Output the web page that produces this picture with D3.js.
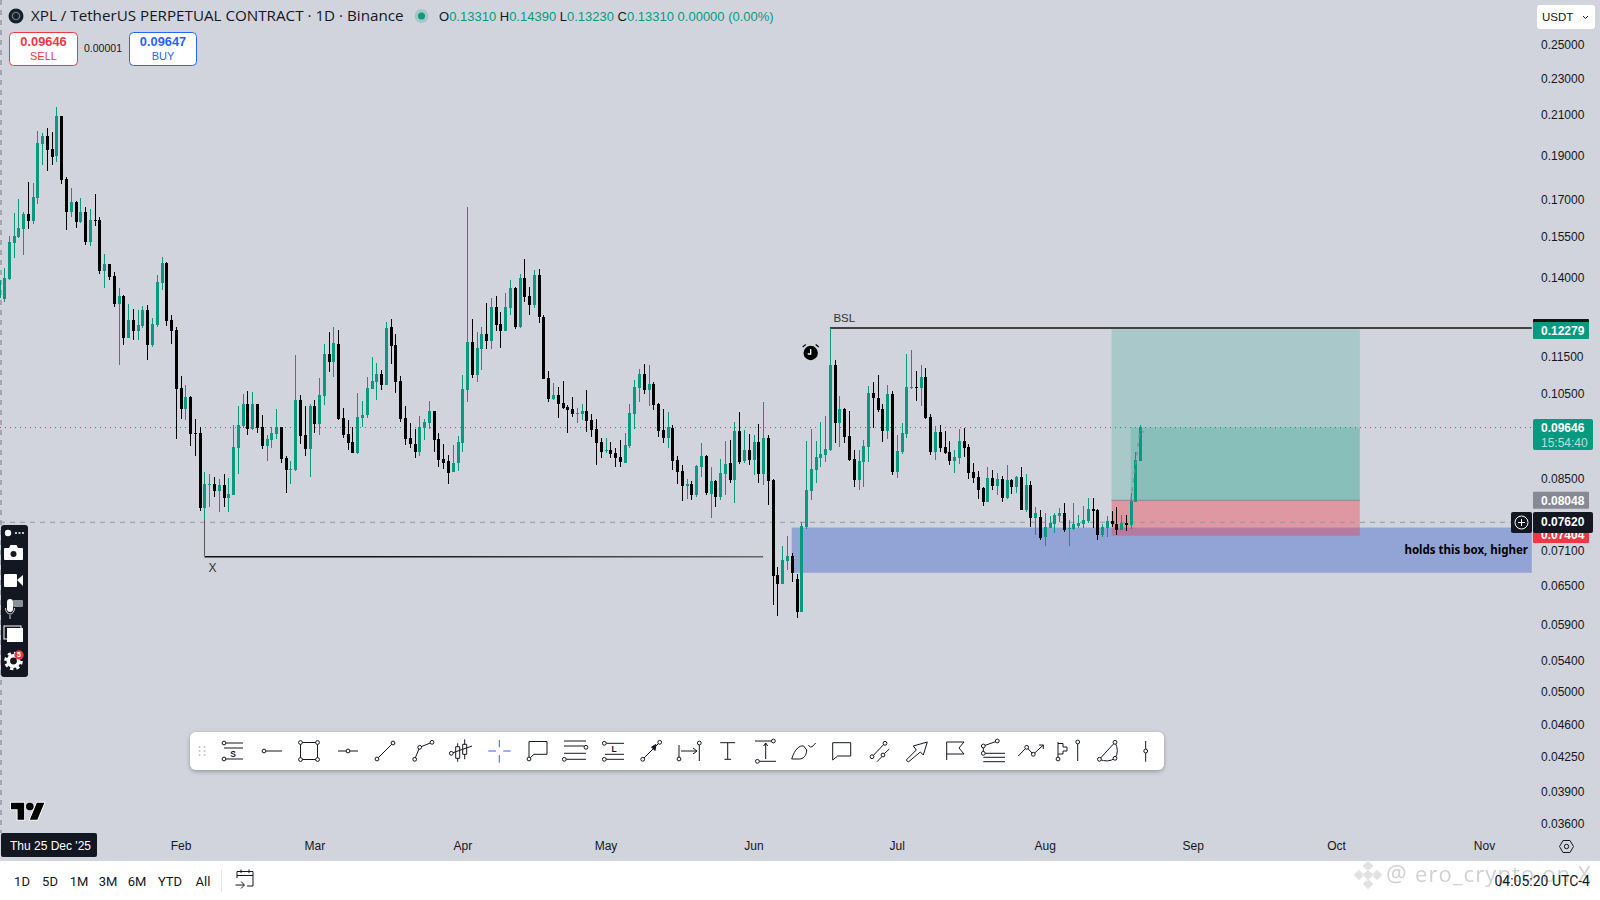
<!DOCTYPE html>
<html>
<head>
<meta charset="utf-8">
<title>XPL / TetherUS PERPETUAL CONTRACT</title>
<script src="https://cdn.jsdelivr.net/npm/d3@7"></script>
<style>
  html, body { margin: 0; padding: 0; background: #d1d4dc; overflow: hidden; }
  svg { display: block; font-family: "Liberation Sans", Arial, sans-serif; }
  .yaxis text, .xaxis text { font-size: 12px; fill: #131722; font-family: "Liberation Sans", Arial, sans-serif; }
</style>
</head>
<body>
<div id="chart"></div>
<script>
// daily candles, first one is Thu 25 Dec 2025
const firstDay = "2025-12-25";

const opens = [
  .1332,.1328,.1396,.1527,.1550,.1581,.1642,.1613,.1708,.1954,
  .1993,.1930,.1897,.2095,.1791,.1650,.1691,.1609,.1650,.1531,
  .1617,.1617,.1424,.1449,.1407,.1312,.1338,.1206,.1261,.1227,
  .1242,.1293,.1185,.1245,.1382,.1453,.1261,.1230,.1064,.1010,
  .1041,.0952,.0952,.0790,.0836,.0838,.0824,.0836,.0810,.0816,
  .0917,.0968,.1023,.0961,.1023,.0966,.0921,.0935,.0949,.0966,
  .0894,.0868,.0868,.1033,.0947,.0914,.1018,.0973,.1044,.1159,
  .1136,.1188,.0988,.0949,.0931,.0906,.0988,.0995,.1062,.1080,
  .1103,.1072,.1239,.1185,.1083,.0988,.0940,.0926,.0908,.0963,
  .0976,.1005,.0938,.0892,.0888,.0864,.0883,.0928,.1059,.1194,
  .1099,.1173,.1218,.1197,.1302,.1248,.1227,.1299,.1365,.1239,
  .1400,.1338,.1309,.1410,.1270,.1091,.1036,.1046,.1026,.1015,
  .1010,.0998,.0998,.1005,.0983,.0961,.0931,.0910,.0912,.0906,
  .0897,.0883,.0921,.0998,.1064,.1103,.1059,.1075,.1023,.0959,
  .0940,.0963,.0890,.0866,.0834,.0838,.0816,.0874,.0899,.0818,
  .0845,.0811,.0859,.0883,.0847,.0956,.0888,.0912,.0890,.0931,
  .0859,.0940,.0847,.0668,.0654,.0692,.0701,.0662,.0610,.0753,
  .0824,.0868,.0894,.0901,.0912,.1127,.0976,.1010,.0944,.0892,
  .0847,.0885,.0919,.1051,.1038,.1010,.0956,.1049,.0864,.0908,
  .0949,.1064,.1067,.1064,.1094,.0990,.0908,.0954,.0919,.0908,
  .0888,.0894,.0933,.0919,.0864,.0853,.0829,.0801,.0851,.0834,
  .0849,.0810,.0847,.0831,.0853,.0786,.0836,.0770,.0772,.0734,
  .0751,.0759,.0774,.0780,.0749,.0749,.0755,.0759,.0765,.0788,
  .0786,.0738,.0751,.0765,.0759,.0748,.0761,.0757,.0801,.0888
];
const highs = [
  .1431,.1435,.1554,.1646,.1704,.1650,.1778,.1773,.2018,.2008,
  .2033,.2013,.2143,.2095,.1800,.1751,.1695,.1708,.1670,.1662,
  .1725,.1630,.1486,.1449,.1421,.1365,.1342,.1312,.1296,.1293,
  .1306,.1309,.1267,.1410,.1475,.1457,.1277,.1239,.1097,.1072,
  .1044,.0985,.0966,.0864,.0859,.0853,.0849,.0859,.0851,.0971,
  .1018,.1049,.1056,.1054,.1023,.0995,.0947,.0966,.1010,.0966,
  .0899,.0888,.1156,.1046,.1018,.1023,.1033,.1091,.1188,.1224,
  .1239,.1230,.1013,.0983,.0966,.1051,.1031,.1094,.1150,.1133,
  .1113,.1254,.1264,.1218,.1097,.1018,.0976,.0961,.0993,.0985,
  .1031,.1005,.0952,.0926,.0901,.0924,.0944,.1099,.1670,.1264,
  .1224,.1239,.1315,.1332,.1338,.1286,.1349,.1393,.1369,.1414,
  .1468,.1369,.1428,.1431,.1277,.1111,.1078,.1067,.1083,.1021,
  .1041,.1013,.1023,.1059,.0998,.0985,.0940,.0940,.0931,.0917,
  .0935,.0952,.1023,.1086,.1116,.1130,.1127,.1080,.1026,.1010,
  .1003,.0971,.0899,.0878,.0849,.0845,.0878,.0928,.0901,.0874,
  .0847,.0892,.0933,.0935,.0978,.1003,.0959,.0949,.0947,.0973,
  .1028,.0947,.0849,.0682,.0719,.0736,.0706,.0670,.0763,.0933,
  .0961,.0933,.0978,.0993,.1236,.1141,.1044,.1013,.1005,.0912,
  .0912,.0935,.1070,.1080,.1099,.1023,.1072,.1056,.0947,.0976,
  .1159,.1170,.1111,.1127,.1119,.0998,.0968,.0971,.0956,.0933,
  .0912,.0961,.0963,.0926,.0883,.0866,.0831,.0874,.0868,.0862,
  .0855,.0879,.0849,.0855,.0874,.0859,.0845,.0792,.0786,.0780,
  .0774,.0780,.0790,.0799,.0766,.0799,.0776,.0794,.0810,.0810,
  .0788,.0759,.0774,.0784,.0792,.0776,.0776,.0820,.0908,.0971
];
const lows = [
  .1328,.1319,.1393,.1471,.1546,.1482,.1581,.1601,.1683,.1855,
  .1827,.1855,.1868,.1769,.1577,.1630,.1585,.1605,.1520,.1516,
  .1593,.1414,.1365,.1393,.1302,.1127,.1185,.1206,.1200,.1200,
  .1236,.1141,.1179,.1239,.1359,.1242,.1188,.0938,.0985,.0983,
  .0921,.0899,.0784,.0766,.0792,.0811,.0782,.0792,.0782,.0816,
  .0859,.0963,.0947,.0959,.0952,.0914,.0888,.0917,.0938,.0883,
  .0820,.0838,.0866,.0926,.0899,.0853,.0952,.0947,.1021,.1108,
  .1094,.0983,.0940,.0912,.0906,.0904,.0966,.0988,.1062,.1033,
  .1059,.1072,.1130,.1051,.0978,.0924,.0917,.0894,.0899,.0935,
  .0961,.0908,.0874,.0870,.0838,.0864,.0866,.0908,.1028,.1091,
  .1080,.1113,.1173,.1173,.1227,.1176,.1227,.1277,.1233,.1236,
  .1319,.1277,.1299,.1251,.1088,.1028,.1033,.0988,.1010,.0952,
  .0990,.0976,.0983,.0954,.0942,.0878,.0894,.0906,.0894,.0874,
  .0874,.0883,.0917,.0961,.1028,.1049,.1018,.1008,.0942,.0928,
  .0917,.0868,.0838,.0803,.0808,.0805,.0811,.0853,.0816,.0770,
  .0792,.0805,.0816,.0841,.0799,.0881,.0883,.0878,.0857,.0841,
  .0836,.0795,.0620,.0603,.0654,.0677,.0656,.0601,.0610,.0749,
  .0805,.0840,.0874,.0885,.0910,.0928,.0919,.0928,.0888,.0831,
  .0826,.0831,.0885,.0963,.1003,.0931,.0938,.0857,.0851,.0904,
  .0940,.1062,.1031,.1018,.0985,.0901,.0890,.0908,.0904,.0878,
  .0862,.0881,.0897,.0849,.0840,.0808,.0794,.0801,.0826,.0816,
  .0801,.0808,.0818,.0820,.0786,.0782,.0753,.0738,.0729,.0719,
  .0751,.0742,.0763,.0744,.0719,.0748,.0751,.0751,.0761,.0751,
  .0729,.0734,.0734,.0753,.0738,.0748,.0746,.0749,.0801,.0888
];
const closes = [
  .1393,.1400,.1531,.1554,.1585,.1642,.1613,.1712,.1959,.1993,
  .1925,.1892,.2095,.1786,.1650,.1691,.1609,.1650,.1531,.1617,
  .1613,.1424,.1449,.1403,.1312,.1338,.1206,.1261,.1227,.1245,
  .1293,.1185,.1248,.1386,.1453,.1258,.1227,.1062,.1010,.1041,
  .0949,.0949,.0790,.0838,.0838,.0824,.0836,.0810,.0818,.0919,
  .0971,.1023,.0961,.1023,.0963,.0921,.0938,.0952,.0966,.0892,
  .0868,.0870,.1033,.0944,.0914,.1018,.0973,.1046,.1159,.1136,
  .1191,.0985,.0947,.0928,.0906,.0990,.0995,.1064,.1083,.1103,
  .1072,.1236,.1182,.1080,.0985,.0938,.0926,.0908,.0966,.0978,
  .1005,.0935,.0890,.0883,.0862,.0883,.0931,.1062,.1194,.1099,
  .1176,.1218,.1197,.1302,.1245,.1227,.1302,.1365,.1239,.1400,
  .1335,.1309,.1410,.1270,.1088,.1036,.1046,.1023,.1013,.1008,
  .0998,.1000,.1005,.0981,.0959,.0928,.0908,.0912,.0904,.0894,
  .0885,.0924,.1000,.1067,.1103,.1059,.1075,.1021,.0956,.0940,
  .0966,.0888,.0864,.0834,.0838,.0816,.0876,.0899,.0820,.0845,
  .0811,.0862,.0881,.0847,.0956,.0885,.0912,.0890,.0931,.0859,
  .0940,.0845,.0666,.0654,.0694,.0701,.0672,.0610,.0755,.0826,
  .0870,.0897,.0904,.0914,.1127,.0976,.1010,.0942,.0890,.0847,
  .0888,.0921,.1051,.1038,.1008,.0956,.1049,.0864,.0910,.0952,
  .1067,.1067,.1064,.1094,.0988,.0908,.0954,.0917,.0906,.0888,
  .0897,.0933,.0917,.0862,.0851,.0826,.0801,.0851,.0834,.0849,
  .0810,.0847,.0831,.0853,.0786,.0836,.0770,.0780,.0733,.0753,
  .0761,.0776,.0780,.0748,.0751,.0759,.0761,.0766,.0788,.0784,
  .0738,.0753,.0765,.0759,.0748,.0761,.0757,.0803,.0890,.0965
];

const priceTicks = [0.25, 0.23, 0.21, 0.19, 0.17, 0.155, 0.14, 0.115, 0.105, 0.085, 0.071, 0.065, 0.059, 0.054, 0.05, 0.046, 0.0425, 0.039, 0.036];
const monthTicks = ["2026-02-01", "2026-03-01", "2026-04-01", "2026-05-01", "2026-06-01", "2026-07-01", "2026-08-01", "2026-09-01", "2026-10-01", "2026-11-01"];
const rangeButtons = ["1D", "5D", "1M", "3M", "6M", "YTD", "All"];

// drawings on the chart
const bslLine = { from: "2026-06-17", to: "2026-11-11", price: 0.1236 };
const xLine = { from: "2026-02-06", to: "2026-06-03", price: 0.0701, start: 0.0792 };
const blueBox = { from: "2026-06-09", to: "2026-11-11", top: 0.0752, bottom: 0.0672 };
const longTool = { from: "2026-08-15", to: "2026-10-06", fillFrom: "2026-08-19", target: 0.1232, entry: 0.08048, stop: 0.0737 };
const lastPrice = 0.09646;
const crossPrice = 0.0762;

const parseDay = d3.utcParse("%Y-%m-%d");
const candles = opens.map((o, i) => ({
  date: d3.utcDay.offset(parseDay(firstDay), i),
  open: o, high: highs[i], low: lows[i], close: closes[i]
}));

const green = "#089981", black = "#000000", ink = "#131722";
const width = 1600, height = 900, paneRight = 1533, barTop = 861;

const x = d3.scaleUtc()
  .domain([parseDay(firstDay), parseDay("2026-11-01")])
  .range([-0.8, 1484]);
const y = d3.scaleLog().domain([0.25, 0.036]).range([45, 823.5]);
const X = s => x(parseDay(s));

const svg = d3.select("#chart").append("svg").attr("width", width).attr("height", height);
svg.append("rect").attr("width", width).attr("height", height).attr("fill", "#d1d4dc");

function rect(g, x0, y0, w, h, fill, r) {
  return g.append("rect").attr("x", x0).attr("y", y0).attr("width", w).attr("height", h).attr("fill", fill).attr("rx", r || 0);
}
function line(g, x1, y1, x2, y2, stroke, w) {
  return g.append("line").attr("x1", x1).attr("y1", y1).attr("x2", x2).attr("y2", y2).attr("stroke", stroke).attr("stroke-width", w || 1);
}
function label(g, x0, y0, txt, size, fill, anchor, weight) {
  return g.append("text").attr("x", x0).attr("y", y0).attr("dy", "0.35em").attr("font-size", size)
    .attr("fill", fill).attr("text-anchor", anchor || "start").attr("font-weight", weight || 400).text(txt);
}

// boxes sit behind the candles
const drawings = svg.append("g");
rect(drawings, X(blueBox.from), y(blueBox.top), X(blueBox.to) - X(blueBox.from), y(blueBox.bottom) - y(blueBox.top), "#92a3d6");
rect(drawings, X(longTool.from), y(longTool.target), X(longTool.to) - X(longTool.from), y(longTool.entry) - y(longTool.target), "#089981", 0).attr("opacity", 0.2);
rect(drawings, X(longTool.fillFrom), y(lastPrice), X(longTool.to) - X(longTool.fillFrom), y(longTool.entry) - y(lastPrice), "#089981", 0).attr("opacity", 0.2);
rect(drawings, X(longTool.from), y(longTool.entry), X(longTool.to) - X(longTool.from), y(longTool.stop) - y(longTool.entry), "#f23645", 0).attr("opacity", 0.38);
line(drawings, X(longTool.from), y(longTool.entry), X(longTool.to), y(longTool.entry), "#868993", 1);

line(drawings, 0, y(lastPrice), paneRight, y(lastPrice), green, 1).attr("stroke-dasharray", "1 4");
line(drawings, 0, y(crossPrice), 1511, y(crossPrice), "#9598a1", 1).attr("stroke-dasharray", "5 5");
line(drawings, 1, 0, 1, 833, "#9598a1", 1.5).attr("stroke-dasharray", "5 5");

// the black lines, X fades to grey on its right end
const defs = svg.append("defs");
const fade = defs.append("linearGradient").attr("id", "xfade").attr("gradientUnits", "userSpaceOnUse")
  .attr("x1", X(xLine.from)).attr("x2", X(xLine.to)).attr("y1", 0).attr("y2", 0);
fade.append("stop").attr("offset", "0.3").attr("stop-color", "#111");
fade.append("stop").attr("offset", "1").attr("stop-color", "#666");
line(drawings, X(xLine.from), y(xLine.start), X(xLine.from), y(xLine.price), "#555", 1);
drawings.append("rect").attr("x", X(xLine.from)).attr("y", Math.round(y(xLine.price))).attr("height", 1.5)
  .attr("width", X(xLine.to) - X(xLine.from)).attr("fill", "url(#xfade)");
line(drawings, X(bslLine.from), y(bslLine.price), X(bslLine.to), y(bslLine.price), "#111", 1.5);
label(drawings, X(xLine.from) + 4, y(xLine.price) + 12, "X", 12, "#333");
label(drawings, X(bslLine.from) + 3.5, y(bslLine.price) - 10, "BSL", 11.5, "#333");
label(drawings, 1528, y(0.0712), "holds this box, higher", 11.5, "#000", "end", 700).attr("font-family", "Noto Sans");

// candles
const candleG = svg.append("g").attr("shape-rendering", "crispEdges");
const candle = candleG.selectAll("g").data(candles).join("g")
  .attr("fill", d => d.close >= d.open ? green : black);
candle.append("rect")
  .attr("x", d => Math.round(x(d.date)))
  .attr("width", 1)
  .attr("y", d => y(d.high))
  .attr("height", d => y(d.low) - y(d.high));
candle.append("rect")
  .attr("x", d => Math.round(x(d.date)) - 1)
  .attr("width", 3)
  .attr("y", d => y(Math.max(d.open, d.close)))
  .attr("height", d => Math.max(1, Math.abs(y(d.open) - y(d.close))));

// path of the running trade, drawn over the last candles
svg.append("path")
  .attr("d", d3.line()([[X("2026-08-19"), y(0.0805)], [X("2026-08-21"), y(0.0960)], [X("2026-08-22") - 1, y(0.0952)]]))
  .attr("fill", "none").attr("stroke", "#868993").attr("stroke-width", 1.5).attr("stroke-dasharray", "4 5").attr("opacity", 0.8);

// alarm icon
const alarm = svg.append("g").attr("transform", "translate(810.7,353)");
alarm.append("circle").attr("r", 7.2).attr("fill", "#000");
alarm.append("path").attr("d", "M0,-4V1H-3").attr("fill", "none").attr("stroke", "#fff").attr("stroke-width", 1.3);
alarm.append("path").attr("d", "M-8,-6L-5,-8.5M8,-6L5,-8.5").attr("stroke", "#000").attr("stroke-width", 1.2);

// price scale
const yAxis = d3.axisRight(y).tickValues(priceTicks).tickFormat(d3.format(".5f")).tickSize(0).tickPadding(0);
svg.append("g").attr("class", "yaxis").attr("transform", "translate(1541,0)").call(yAxis)
  .call(g => g.select(".domain").remove());

// time scale
const xAxis = d3.axisBottom(x).tickValues(monthTicks.map(parseDay)).tickFormat(d3.utcFormat("%b")).tickSize(0).tickPadding(0);
svg.append("g").attr("class", "xaxis").attr("transform", "translate(0,841.5)").call(xAxis)
  .call(g => g.select(".domain").remove());

// price labels
const tags = svg.append("g");
rect(tags, paneRight, y(bslLine.price) - 9, 56, 18, "#111", 1);
label(tags, 1541, y(bslLine.price), "0.12360", 12, "#fff");
rect(tags, paneRight, y(0.12279) - 8.5, 56, 17, green, 1);
label(tags, 1541, y(0.12279), "0.12279", 12, "#fff", "start", 700);
rect(tags, paneRight, y(lastPrice) - 8.5, 60, 31, green, 2);
label(tags, 1541, y(lastPrice), "0.09646", 12, "#fff", "start", 700);
label(tags, 1541, y(lastPrice) + 15, "15:54:40", 12, "#b5e0d8");
rect(tags, paneRight, y(0.08048) - 8.5, 56, 17, "#868993", 1);
label(tags, 1541, y(0.08048), "0.08048", 12, "#fff", "start", 700);
rect(tags, paneRight, 527, 56, 16, "#f23645", 1);
label(tags, 1541, 535, "0.07404", 12, "#fff", "start", 700);
rect(tags, paneRight, 512, 60, 21, ink, 2);
label(tags, 1541, y(crossPrice), "0.07620", 12, "#fff", "start", 700);
rect(tags, 1511, 512, 21, 21, ink, 2);
tags.append("circle").attr("cx", 1521.5).attr("cy", 522.5).attr("r", 6.5).attr("fill", "none").attr("stroke", "#fff");
tags.append("path").attr("d", "M1518,522.5H1525M1521.5,519V526").attr("stroke", "#fff");

// USDT selector and the scale settings
const unit = svg.append("g");
rect(unit, 1537, 5, 58, 24, "#fff", 3);
label(unit, 1542, 17, "USDT", 11.5, ink);
unit.append("path").attr("d", "M1583,16l2.5,2.5l2.5,-2.5").attr("fill", "none").attr("stroke", ink);
unit.append("path").attr("d", "M-7,0L-3.5,-6H3.5L7,0L3.5,6H-3.5Z").attr("transform", "translate(1566.5,846.5)")
  .attr("fill", "none").attr("stroke", ink).attr("stroke-width", 1);
unit.append("circle").attr("cx", 1566.5).attr("cy", 846.5).attr("r", 2.2).attr("fill", "none").attr("stroke", ink);

// header
const head = svg.append("g");
head.append("circle").attr("cx", 16).attr("cy", 16).attr("r", 7.5).attr("fill", "#17202a");
head.append("circle").attr("cx", 16).attr("cy", 16).attr("r", 3.6).attr("fill", "none").attr("stroke", "#5d7f86").attr("stroke-width", 1.4);
label(head, 31, 16, "XPL / TetherUS PERPETUAL CONTRACT · 1D · Binance", 15.2, ink).attr("font-family", "Open Sans");
head.append("circle").attr("cx", 421.5).attr("cy", 16).attr("r", 7).attr("fill", "#089981").attr("opacity", 0.22);
head.append("circle").attr("cx", 421.5).attr("cy", 16).attr("r", 3.5).attr("fill", green);
const ohlc = label(head, 439, 16, "", 13, ink);
[["O", "0.13310"], ["H", "0.14390"], ["L", "0.13230"], ["C", "0.13310"]].forEach(p => {
  ohlc.append("tspan").text(p[0]);
  ohlc.append("tspan").attr("fill", green).text(p[1] + " ");
});
ohlc.append("tspan").attr("fill", green).text("0.00000 (0.00%)");

// sell and buy boxes
const trade = svg.append("g");
rect(trade, 9.5, 32.5, 68, 33, "#fff", 4).attr("stroke", "#f23645");
label(trade, 43.5, 42, "0.09646", 12.8, "#f23645", "middle", 700);
label(trade, 43.5, 56, "SELL", 11, "#f23645", "middle");
label(trade, 103, 48.5, "0.00001", 10.5, ink, "middle");
rect(trade, 129.5, 32.5, 67, 33, "#fff", 4).attr("stroke", "#2962ff");
label(trade, 163, 42, "0.09647", 12.8, "#2962ff", "middle", 700);
label(trade, 163, 56, "BUY", 11, "#2962ff", "middle");

// logo
const logo = svg.append("g").attr("transform", "translate(11,799) scale(0.94)");
logo.append("path").attr("d", "M14 22H7V11H0V4h14v18zM28 22h-8l7.5-18h8L28 22z").attr("fill", "#000").attr("stroke", "#fff").attr("stroke-width", 2).attr("paint-order", "stroke");
logo.append("circle").attr("cx", 20).attr("cy", 8).attr("r", 4).attr("fill", "#000");

// crosshair date
rect(svg, 1, 833, 96, 24, ink, 2);
label(svg, 10, 846, "Thu 25 Dec '25", 12, "#fff");

// screen recorder panel on the left
const rec = svg.append("g");
rect(rec, 1, 525, 27, 152, ink, 3);
rec.append("circle").attr("cx", 8).attr("cy", 533).attr("r", 3.2).attr("fill", "#fff");
rec.append("path").attr("d", "M15,533h2M18.5,533h2M22,533h2").attr("stroke", "#fff").attr("stroke-width", 1.6);
rect(rec, 4, 548, 19, 12, "#fff", 1);
rec.append("path").attr("d", "M9,548l1.5,-3h6l1.5,3z").attr("fill", "#fff");
rec.append("circle").attr("cx", 13.5).attr("cy", 554).attr("r", 3).attr("fill", ink);
rect(rec, 4, 574, 13, 13, "#fff", 1);
rec.append("path").attr("d", "M17,580l6,-5v11z").attr("fill", "#fff");
rect(rec, 7, 599, 6, 13, "#fff", 3);
rec.append("path").attr("d", "M5.5,608c0,8 9,8 9,0M10,615v4").attr("fill", "none").attr("stroke", "#ddd");
rect(rec, 13, 600, 10, 7, "#8a8f98", 1);
rect(rec, 4, 626, 17, 13, ink).attr("stroke", "#fff");
rect(rec, 7, 628, 16, 14, "#fff");
rec.append("circle").attr("cx", 13.5).attr("cy", 661).attr("r", 5.2).attr("fill", "none").attr("stroke", "#fff").attr("stroke-width", 3.6);
rec.append("circle").attr("cx", 13.5).attr("cy", 661).attr("r", 8).attr("fill", "none").attr("stroke", "#fff").attr("stroke-width", 2.6).attr("stroke-dasharray", "3.3 3");
rec.append("circle").attr("cx", 19).attr("cy", 655).attr("r", 4.7).attr("fill", "#f23645");
label(rec, 19, 655, "5", 7, "#fff", "middle", 700);

// drawing toolbar
const shadow = defs.append("filter").attr("id", "barShadow").attr("x", "-5%").attr("y", "-30%").attr("width", "110%").attr("height", "170%");
shadow.append("feDropShadow").attr("dx", 0).attr("dy", 1.5).attr("stdDeviation", 2).attr("flood-color", "#000").attr("flood-opacity", 0.3);
const tools = svg.append("g");
rect(tools, 190, 732, 974, 38, "#fff", 6).attr("filter", "url(#barShadow)");
[[199.5, 747], [204.5, 747], [199.5, 751], [204.5, 751], [199.5, 755], [204.5, 755]].forEach(p => {
  tools.append("circle").attr("cx", p[0]).attr("cy", p[1]).attr("r", 1).attr("fill", "#c4c6cc");
});

const toolIcons = [
  { x: 233, d: "M-9,-8H10M-9,-3H10M-9,8H10", nodes: [[-9, -8], [-9, 8]], text: "S", ty: 3 },
  { x: 272, d: "M-8,0H10", nodes: [[-8, 0]] },
  { x: 309, d: "M-8.5,-8.5H8.5V8.5H-8.5Z", nodes: [[-8.5, -8.5], [8.5, -8.5], [-8.5, 8.5], [8.5, 8.5]] },
  { x: 348, d: "M-10,0H10", nodes: [[0, 0]] },
  { x: 385, d: "M-8,8L8,-8", nodes: [[-8, 8], [8, -8]] },
  { x: 423, d: "M-8.3,8.3L-3.3,-3.7L9,-8.7", nodes: [[-8.3, 8.3], [-3.3, -3.7], [9, -8.7]] },
  { x: 461, d: "M-5.3,-4.3H-1.3V7.3H-5.3ZM-3.3,-7.7V-4.3M-3.3,7.3V10.7M1.7,-6.7H5.7V3.3H1.7ZM3.7,-11.7V-6.7M3.7,3.3V8.3M-8,1.7L11,-5", nodes: [[-9.7, 2.3]] },
  { x: 499.3, d: "M-11,0H-3.3M4,0H11.3M0,-11V-3.7M0,4V11.7", nodes: [], stroke: "#2962ff" },
  { x: 538, d: "M-9,6.5V-9.5H9V3.3H-4L-8,7", nodes: [[-9, 8]] },
  { x: 575, d: "M-11,-10H11M-11,-5H9.5M-11,2.3H11M-9,8.3H11", nodes: [[11, -3.7], [-10.7, 8.3]] },
  { x: 614, d: "M-9,-7.7H10M-9,3.3H10M-9,8.3H10", nodes: [[-9.7, -7.7], [-9.7, 8.3]], text: "L", ty: -2 },
  { x: 651, d: "M-8,8L8,-8M0.5,-4L5,-6.5L4,-0.5Z", nodes: [[-8.3, 8.3], [8.7, -8.7]], fill: true },
  { x: 690, d: "M-11,-6V7M-9,0H7M3,-3L7,0L3,3M9.3,-6.5V10", nodes: [[-11, 8], [9.3, -8]] },
  { x: 727.7, d: "M-7.5,-8.3H7.5M0,-8.3V8.3M-3.3,8.3H3.3", nodes: [] },
  { x: 765.7, d: "M-10.7,-10H6.5M-7,10.3H10.3M0,8V-8M-2,-5L0,-8L2,-5", nodes: [[7.7, -10], [-8.3, 10.3]] },
  { x: 802.7, d: "M-11,8C-8,-2 -3,-6 1,-5L4,-1C4,5 0,8 -3,8ZM6,-6C7,-3 9,-3 13,-8", nodes: [] },
  { x: 841.7, d: "M-9,9V-8.3H9V5H-4Z", nodes: [] },
  { x: 880, d: "M-7,4.7L4.2,-7M-3,10.7L2,5.5M4.2,2.8L9.3,-2", nodes: [[-8, 5.7], [5, -7.7], [3, 4]] },
  { x: 917.3, d: "M-11,9L-9,11L3,1L6,4L10,-9L-4,-5L-1,-1Z", nodes: [] },
  { x: 955, d: "M-8.3,9V-9H9L4,-3L9,3H-8.3", nodes: [] },
  { x: 993.3, d: "M-10,-5L4,-10M-10,-5V2.3M-10,2.3H11.7M-10,6.3H11.7M-10,10.7H11.7", nodes: [[-10, -5], [4, -10], [-10, 2.3]] },
  { x: 1031, d: "M-12.7,5L-4.3,-3.7L2.3,3.3L12.3,-6M8,-6H12.3V-2", nodes: [[-4.3, -3.7], [2.3, 3.3]] },
  { x: 1068, d: "M-10,-9V7M-10,-7.5H-5V-4H-1V0H-5V3H-10M9.7,-7V10", nodes: [[-10, 8], [9.7, -9]] },
  { x: 1107.7, d: "M-8.3,8.3L7.3,-8.7Q12,0 7.3,7.3Q0,12 -8.3,8.3", nodes: [[-8.3, 8.3], [7.3, -8.7], [7.3, 7.3]] },
  { x: 1145.7, d: "M0,-10V10.7", nodes: [[0, 0]] }
];
toolIcons.forEach(t => {
  const g = tools.append("g").attr("transform", "translate(" + t.x + ",751)");
  g.append("path").attr("d", t.d).attr("fill", t.fill ? "#131722" : "none").attr("stroke", t.stroke || "#131722").attr("stroke-width", 1);
  t.nodes.forEach(n => {
    g.append("circle").attr("cx", n[0]).attr("cy", n[1]).attr("r", 1.9).attr("fill", "#fff").attr("stroke", "#131722");
  });
  if (t.text) label(g, 0, t.ty, t.text, 8.5, "#131722", "middle", 700);
});

// bottom bar
const bar = svg.append("g");
rect(bar, 0, barTop, width, height - barTop, "#fff");
const rangeX = [22, 50, 79, 108, 137, 170, 203];
rangeButtons.forEach((b, i) => label(bar, rangeX[i], 881, b, 13, ink, "middle").attr("font-family", "Roboto"));
line(bar, 221.5, 870, 221.5, 892, "#e0e3eb");
bar.append("path").attr("d", "M237,878V871.5H253V886H247M237,875.5H253M241,869.5V873M249,869.5V873M235.5,885H244M241,881.5L244.5,885L241,888.5")
  .attr("fill", "none").attr("stroke", ink);

// watermark sits over the bar
const mark = svg.append("g").attr("opacity", 0.85);
[[0, -9], [-9, 0], [9, 0], [0, 9], [0, 0]].forEach(p => {
  mark.append("rect").attr("x", -4).attr("y", -4).attr("width", 8).attr("height", 8)
    .attr("fill", "#dcdcdc").attr("stroke", "#fff").attr("stroke-width", 0.8)
    .attr("transform", "translate(" + (1368 + p[0]) + "," + (875 + p[1]) + ") rotate(45)");
});
label(mark, 1386, 874, "@", 23, "#c9c9c9").attr("font-family", "Open Sans");
label(mark, 1415, 874, "ero_crypto.on X", 22, "#c9c9c9").attr("font-family", "Open Sans").attr("letter-spacing", "1.1");

label(svg, 1590, 881, "04:05:20 UTC-4", 14, ink, "end").attr("font-family", "Roboto");
</script>
</body>
</html>
